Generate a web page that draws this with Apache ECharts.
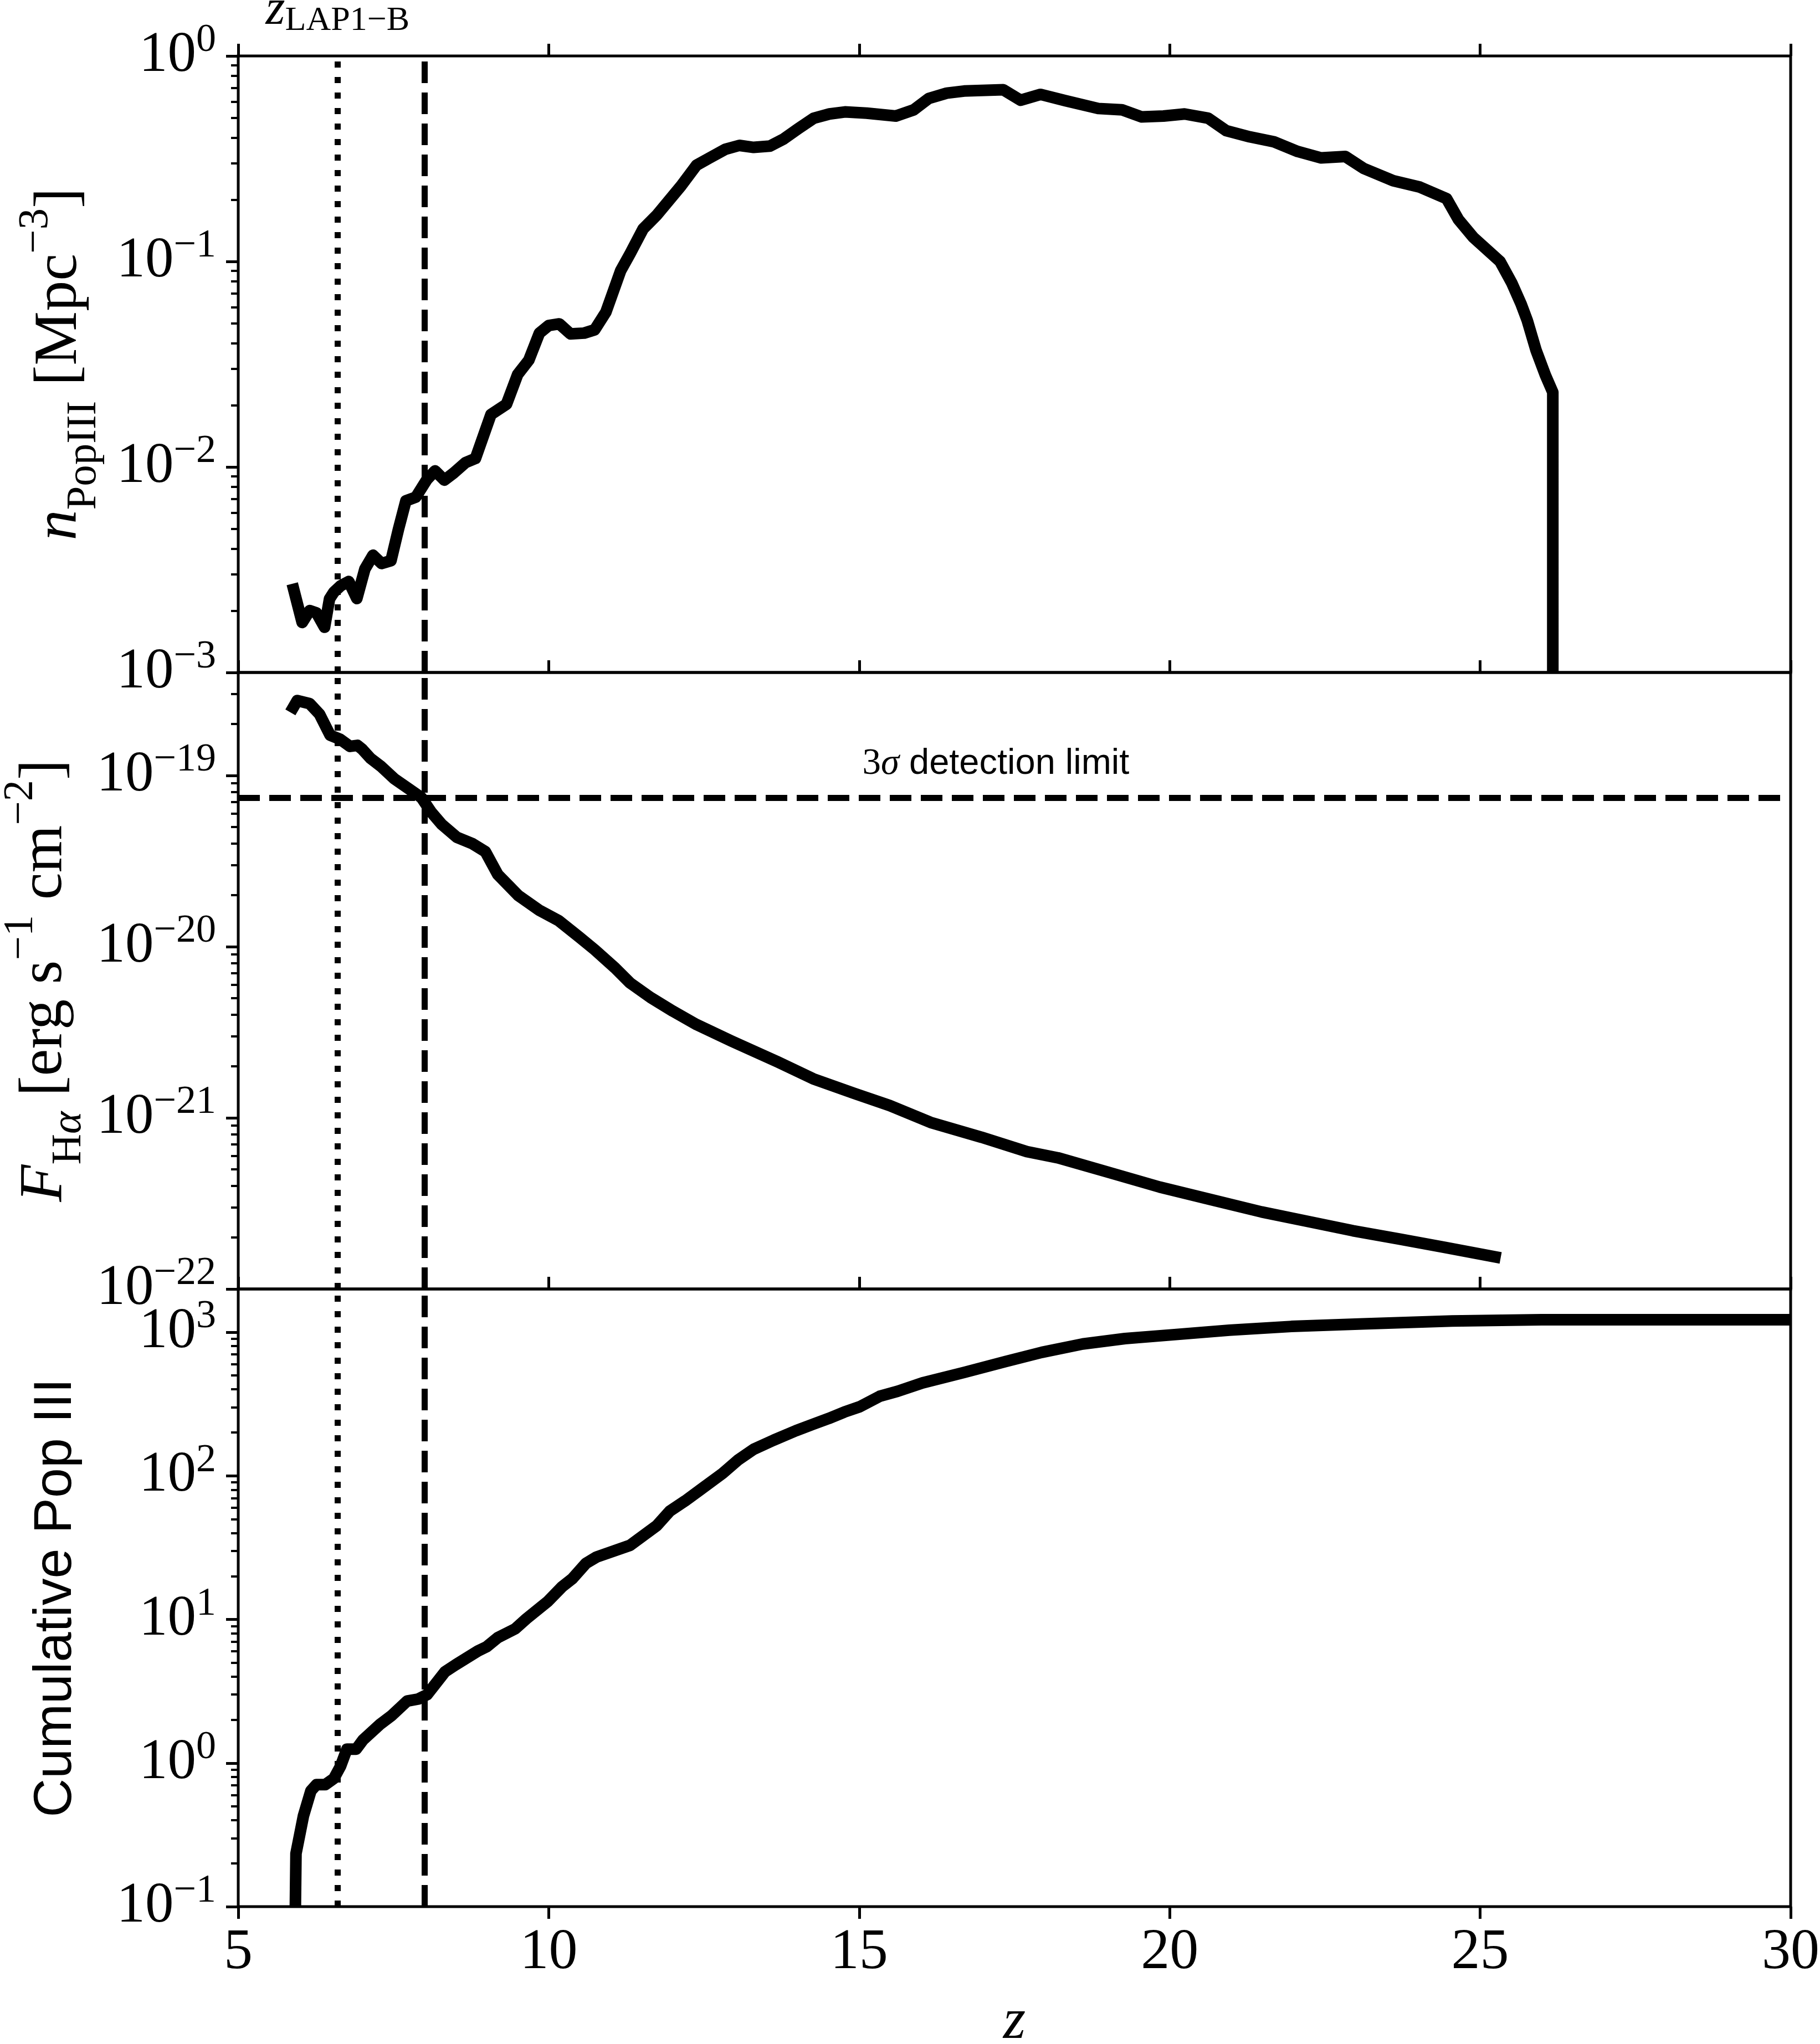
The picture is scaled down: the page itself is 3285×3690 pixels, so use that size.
<!DOCTYPE html>
<html>
<head>
<meta charset="utf-8">
<script src="https://cdn.jsdelivr.net/npm/echarts@6/dist/echarts.min.js"></script>
<style>
  html, body { margin: 0; padding: 0; background: #fff; }
  #c { width: 3285px; height: 3690px; }
</style>
</head>
<body>
<div id="c"></div>
<script>
// ---------------- data ----------------
// Panel 1: Pop III number density [Mpc^-3] vs redshift
const Z_POP = [5.87, 6.03, 6.15, 6.26, 6.39, 6.47, 6.54, 6.65, 6.78, 6.91, 7.04, 7.17, 7.31, 7.46, 7.58, 7.70, 7.86, 8.04, 8.17, 8.32, 8.47, 8.66, 8.82, 9.07, 9.32, 9.50, 9.68, 9.85, 10.00, 10.17, 10.35, 10.57, 10.74, 10.92, 11.16, 11.31, 11.52, 11.74, 12.13, 12.38, 12.59, 12.84, 13.07, 13.30, 13.56, 13.78, 14.02, 14.27, 14.52, 14.77, 15.12, 15.59, 15.88, 16.12, 16.41, 16.69, 17.32, 17.60, 17.92, 18.32, 18.85, 19.23, 19.55, 19.90, 20.24, 20.62, 20.91, 21.29, 21.68, 22.06, 22.44, 22.83, 23.12, 23.60, 24.03, 24.46, 24.65, 24.89, 25.32, 25.51, 25.66, 25.76, 25.90, 26.05, 26.17, 26.17];
const N_POP = [2.70e-3, 1.75e-3, 2.00e-3, 1.95e-3, 1.66e-3, 2.28e-3, 2.46e-3, 2.64e-3, 2.77e-3, 2.29e-3, 3.19e-3, 3.72e-3, 3.39e-3, 3.50e-3, 4.97e-3, 6.84e-3, 7.13e-3, 8.70e-3, 9.57e-3, 8.63e-3, 9.35e-3, 1.05e-2, 1.10e-2, 1.80e-2, 2.02e-2, 2.82e-2, 3.31e-2, 4.48e-2, 4.88e-2, 4.97e-2, 4.44e-2, 4.48e-2, 4.65e-2, 5.66e-2, 9.04e-2, 0.109, 0.144, 0.168, 0.233, 0.294, 0.319, 0.351, 0.367, 0.359, 0.364, 0.394, 0.443, 0.498, 0.522, 0.534, 0.527, 0.510, 0.547, 0.621, 0.659, 0.675, 0.685, 0.609, 0.650, 0.606, 0.555, 0.547, 0.505, 0.510, 0.522, 0.498, 0.433, 0.404, 0.382, 0.343, 0.319, 0.324, 0.284, 0.247, 0.230, 0.202, 0.160, 0.131, 0.100, 0.0785, 0.062, 0.0515, 0.037, 0.028, 0.0231, 0.001];

// Panel 2: H-alpha flux [erg s^-1 cm^-2] vs redshift
const Z_FLUX = [5.84, 5.95, 6.15, 6.31, 6.48, 6.64, 6.80, 6.92, 7.00, 7.13, 7.30, 7.51, 7.70, 7.95, 8.11, 8.28, 8.52, 8.77, 8.98, 9.18, 9.51, 9.84, 10.16, 10.49, 10.74, 11.07, 11.31, 11.64, 12.00, 12.38, 12.95, 13.69, 14.26, 14.92, 15.49, 16.15, 16.97, 17.70, 18.20, 19.02, 19.84, 20.66, 21.48, 22.30, 22.95, 23.69, 24.43, 25.33];
const F_HALPHA = [2.34e-19, 2.74e-19, 2.63e-19, 2.28e-19, 1.72e-19, 1.63e-19, 1.48e-19, 1.50e-19, 1.42e-19, 1.26e-19, 1.13e-19, 9.6e-20, 8.6e-20, 7.43e-20, 6.1e-20, 5.17e-20, 4.36e-20, 4.0e-20, 3.59e-20, 2.64e-20, 1.99e-20, 1.64e-20, 1.42e-20, 1.14e-20, 9.6e-21, 7.5e-21, 6.14e-21, 5.05e-21, 4.2e-21, 3.51e-21, 2.8e-21, 2.12e-21, 1.69e-21, 1.39e-21, 1.18e-21, 9.4e-22, 7.7e-22, 6.35e-22, 5.84e-22, 4.8e-22, 3.94e-22, 3.33e-22, 2.82e-22, 2.45e-22, 2.19e-22, 1.96e-22, 1.75e-22, 1.52e-22];

// Panel 3: cumulative Pop III count vs redshift
const Z_CUM = [5.92, 5.93, 6.05, 6.17, 6.26, 6.40, 6.54, 6.65, 6.75, 6.90, 7.01, 7.29, 7.47, 7.72, 7.90, 8.04, 8.33, 8.50, 8.86, 9.00, 9.18, 9.46, 9.64, 9.99, 10.21, 10.38, 10.60, 10.77, 11.31, 11.74, 11.95, 12.20, 12.45, 12.80, 13.05, 13.30, 13.62, 13.98, 14.26, 14.51, 14.76, 15.01, 15.33, 15.62, 16.02, 16.69, 17.36, 17.94, 18.60, 19.28, 20.05, 20.96, 21.96, 23.11, 24.55, 25.99, 30.0];
const N_CUM = [0.1, 0.234, 0.428, 0.64, 0.707, 0.707, 0.78, 0.955, 1.25, 1.25, 1.45, 1.87, 2.14, 2.70, 2.79, 2.99, 4.32, 4.83, 6.03, 6.45, 7.47, 8.6, 10.1, 13.4, 16.8, 19.2, 24.6, 27.2, 32.8, 45, 56.8, 67, 80.5, 104, 129, 153, 177, 206, 229, 251, 278, 303, 358, 388, 444, 525, 625, 724, 828, 903, 960, 1033, 1097, 1142, 1197, 1222, 1222];

// reference lines / annotations
const Z_LAP1B = 6.6;        // dotted line (z of LAP1-B)
const Z_CUT = 8.0;          // dashed line
const F_LIMIT = 7.43e-20;   // 3 sigma detection limit
const LIMIT_LABEL_AT = [17.2, 1.17e-19];

// axes
const X_MIN = 5, X_MAX = 30, X_STEP = 5;
const Y1_RANGE = [1e-3, 1];
const Y2_RANGE = [1e-22, 4e-19];
const Y3_RANGE = [0.1, 2000];

// The flux values are far below the float precision ECharts keeps,
// so panel 2 is plotted in units of 1e-22 erg/s/cm^2; labels show the true exponent.
const FLUX_UNIT_EXP = -22;
const FLUX_UNIT = Math.pow(10, FLUX_UNIT_EXP);

// ---------------- styling helpers ----------------
const SERIF = "'Liberation Serif', 'DejaVu Serif', serif";
const SANS = "'Liberation Sans', 'DejaVu Sans', sans-serif";
const BLACK = '#000';

function zip(xs, ys, scale) { return xs.map((x, i) => [x, ys[i] / (scale || 1)]); }
function minorTicks(range) {
  const out = [];
  const e0 = Math.floor(Math.log10(range[0]) + 1e-9);
  const e1 = Math.ceil(Math.log10(range[1]) - 1e-9);
  for (let e = e0; e <= e1; e++) {
    for (let m = 2; m <= 9; m++) {
      const v = m * Math.pow(10, e);
      if (v > range[0] * 1.0001 && v < range[1] * 0.9999) out.push(v);
    }
  }
  return out;
}
function powLabelFn(offset) {
  return function (v) {
    const l = Math.log10(v);
    const r = Math.round(l);
    if (Math.abs(l - r) > 0.01) return '';
    const e = r + offset;
    const s = e < 0 ? '\u2212' + (-e) : String(e);
    return '{b|10}{s|' + s + '}';
  };
}
const tickRich = {
  b: { fontFamily: SERIF, fontSize: 103, lineHeight: 127, verticalAlign: 'middle', color: BLACK },
  s: { fontFamily: SERIF, fontSize: 72, lineHeight: 72, verticalAlign: 'top', color: BLACK }
};
const nameRich = {
  i: { fontFamily: SERIF, fontStyle: 'italic', fontSize: 110, lineHeight: 164, verticalAlign: 'middle', color: BLACK },
  r: { fontFamily: SERIF, fontSize: 110, lineHeight: 164, verticalAlign: 'middle', color: BLACK },
  sub: { fontFamily: SERIF, fontSize: 77, lineHeight: 110, verticalAlign: 'bottom', color: BLACK },
  subi: { fontFamily: SERIF, fontStyle: 'italic', fontSize: 77, lineHeight: 110, verticalAlign: 'bottom', color: BLACK },
  sup: { fontFamily: SERIF, fontSize: 77, lineHeight: 84, verticalAlign: 'top', color: BLACK }
};

const GRIDS = [
  { left: 430, right: 53, top: 101, height: 1113 },
  { left: 430, right: 53, top: 1214, height: 1113 },
  { left: 430, right: 53, top: 2327, height: 1115 }
];

const majorTick = { show: true, inside: false, length: 22, lineStyle: { color: BLACK, width: 5 } };
const minorTickStyle = { show: true, inside: false, length: 13, lineStyle: { color: BLACK, width: 4 } };

function topXAxis(gi) {
  return {
    type: 'value', gridIndex: gi, min: X_MIN, max: X_MAX, interval: X_STEP, position: 'top',
    axisLine: { show: false }, axisLabel: { show: false }, axisTick: majorTick, splitLine: { show: false }
  };
}

function yAxes(gi, range, labelOffset, name, nameGap, nameStyle) {
  const major = {
    type: 'log', logBase: 10, gridIndex: gi, min: range[0], max: range[1], position: 'left',
    axisLine: { show: false }, splitLine: { show: false }, minorTick: { show: false },
    axisTick: majorTick,
    axisLabel: { show: true, margin: 40, formatter: powLabelFn(labelOffset), rich: tickRich },
    name: name, nameLocation: 'middle', nameRotate: 90, nameGap: nameGap,
    nameTextStyle: nameStyle
  };
  const minor = {
    type: 'log', logBase: 10, gridIndex: gi, min: range[0], max: range[1], position: 'left',
    axisLine: { show: false }, splitLine: { show: false }, axisLabel: { show: false },
    axisTick: Object.assign({}, minorTickStyle, { customValues: minorTicks(range) })
  };
  return [major, minor];
}

const dottedStyle = { color: BLACK, width: 11, type: [11, 17], cap: 'butt' };
const dashedStyle = { color: BLACK, width: 11, type: [39, 17], cap: 'butt' };

function vLines(withLabel) {
  const lap = { xAxis: Z_LAP1B, lineStyle: dottedStyle };
  if (withLabel) {
    lap.label = {
      show: true, position: 'end', distance: 32,
      formatter: '{z|z}{s|LAP1\u2212B}',
      rich: {
        z: { fontFamily: SERIF, fontStyle: 'italic', fontSize: 90, lineHeight: 100, verticalAlign: 'middle', color: BLACK },
        s: { fontFamily: SERIF, fontSize: 62, lineHeight: 80, verticalAlign: 'bottom', color: BLACK }
      }
    };
  }
  return {
    silent: true, symbol: ['none', 'none'], animation: false,
    label: { show: false },
    emphasis: { disabled: true },
    data: [lap, { xAxis: Z_CUT, lineStyle: dashedStyle }]
  };
}

const curveStyle = { color: BLACK, width: 21, join: 'round', cap: 'butt' };

const option = {
  animation: false,
  backgroundColor: '#fff',
  grid: GRIDS.map(g => Object.assign({
    show: true, borderColor: BLACK, borderWidth: 5, backgroundColor: 'transparent',
    containLabel: false, outerBoundsMode: 'none'
  }, g)),
  xAxis: [
    topXAxis(0),
    topXAxis(1),
    topXAxis(2),
    {
      type: 'value', gridIndex: 2, min: X_MIN, max: X_MAX, interval: X_STEP, position: 'bottom',
      axisLine: { show: false }, axisTick: majorTick, splitLine: { show: false },
      axisLabel: { show: true, margin: 32, fontFamily: SERIF, fontSize: 104, color: BLACK },
      name: 'z', nameLocation: 'middle', nameGap: 158,
      nameTextStyle: { fontFamily: SERIF, fontStyle: 'italic', fontSize: 104, color: BLACK }
    }
  ],
  yAxis: [].concat(
    yAxes(0, Y1_RANGE, 0, '{i|n}{sub|PopIII}{r| [Mpc}{sup|\u22123}{r|]}', 240, { rich: nameRich }),
    yAxes(1, [Y2_RANGE[0] / FLUX_UNIT, Y2_RANGE[1] / FLUX_UNIT], FLUX_UNIT_EXP,
      '{i|F}{sub|H}{subi|\u03b1}{r| [erg s}{sup|\u22121}{r| cm}{sup|\u22122}{r|]}', 258, { rich: nameRich }),
    yAxes(2, Y3_RANGE, 0, 'Cumulative Pop III', 279, { fontFamily: SANS, fontSize: 97, lineHeight: 100, color: BLACK })
  ),
  series: [
    {
      type: 'line', xAxisIndex: 0, yAxisIndex: 0, data: zip(Z_POP, N_POP),
      showSymbol: false, symbol: 'none', lineStyle: curveStyle, clip: true,
      markLine: vLines(true)
    },
    {
      type: 'line', xAxisIndex: 1, yAxisIndex: 2, data: zip(Z_FLUX, F_HALPHA, FLUX_UNIT),
      showSymbol: false, symbol: 'none', lineStyle: curveStyle, clip: true,
      markLine: (function () {
        const m = vLines(false);
        m.data.push({ yAxis: F_LIMIT / FLUX_UNIT, lineStyle: dashedStyle });
        return m;
      })(),
      markPoint: {
        silent: true, symbol: 'circle', symbolSize: 1,
        itemStyle: { color: 'rgba(0,0,0,0)' },
        data: [{ coord: [LIMIT_LABEL_AT[0], LIMIT_LABEL_AT[1] / FLUX_UNIT] }],
        label: {
          show: true, position: 'inside',
          formatter: '{a|3}{g|\u03c3}{t| detection limit}',
          rich: {
            a: { fontFamily: SERIF, fontSize: 67, color: BLACK },
            g: { fontFamily: SERIF, fontStyle: 'italic', fontSize: 67, color: BLACK },
            t: { fontFamily: SANS, fontSize: 65, color: BLACK }
          }
        }
      }
    },
    {
      type: 'line', xAxisIndex: 3, yAxisIndex: 4, data: zip(Z_CUM, N_CUM),
      showSymbol: false, symbol: 'none', lineStyle: curveStyle, clip: true,
      markLine: vLines(false)
    }
  ]
};

const chart = echarts.init(document.getElementById('c'), null, { renderer: 'canvas', width: 3285, height: 3690 });
chart.setOption(option);
</script>
</body>
</html>
